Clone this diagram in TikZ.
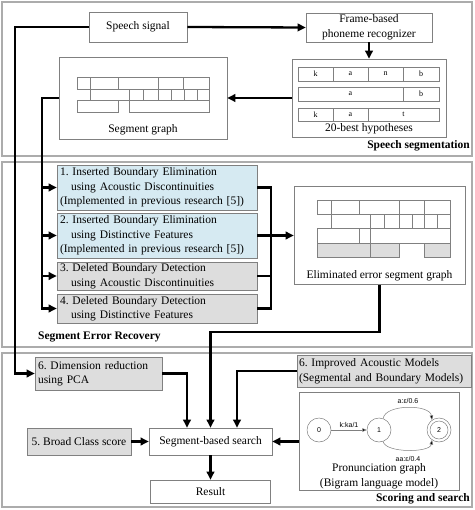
\documentclass[tikz,border=0pt]{standalone}
\usepackage{fontspec}
\setmainfont{Liberation Serif}
\newfontfamily\labsans{Liberation Sans}
\usetikzlibrary{arrows.meta}
\definecolor{boxblue}{RGB}{214,234,242}
\definecolor{boxgray}{RGB}{221,221,221}
\definecolor{framegray}{RGB}{172,172,172}
\definecolor{linegray}{RGB}{128,128,128}
\frenchspacing

\begin{document}
\begin{tikzpicture}[x=1pt,y=-1pt,
  blk/.style={draw=linegray, line width=0.6pt, fill=white, inner sep=0pt, align=center,
    font=\fontsize{11.5}{14.5}\selectfont},
  lblk/.style={blk, align=left, inner xsep=3pt},
  conn/.style={line width=2.3pt, line join=miter},
  arr/.style={conn, -{Triangle[length=8pt,width=7.5pt]}},
  cell/.style={draw=linegray, line width=0.5pt},
  cellt/.style={inner sep=0pt, font=\fontsize{8}{9}\selectfont},
  sect/.style={draw=framegray, line width=1.6pt},
  title/.style={inner sep=0pt, font=\bfseries\fontsize{11.5}{13}\selectfont},
  st/.style={circle, draw=linegray, line width=0.5pt, minimum size=24pt, inner sep=0pt,
    font=\labsans\fontsize{7}{8}\selectfont},
  sarr/.style={draw=linegray, line width=0.5pt, -{Triangle[length=4.5pt,width=3.5pt,fill=black]}},
  slab/.style={inner sep=0pt, font=\labsans\fontsize{7}{8}\selectfont}]
\useasboundingbox (0,0) rectangle (474,510);
% sections
\draw[sect] (2,2) rectangle (472,156);
\draw[sect] (2,162) rectangle (472,347);
\draw[sect] (2,353) rectangle (472,507);
\node[title, anchor=east] (t1) at (470,146) {Speech segmentation};
\node[title, anchor=west] (t2) at (38,337) {Segment Error Recovery};
\node[title, anchor=east] (t3) at (470,499) {Scoring and search};
%
% speech segmentation
\node[blk, minimum width=98pt, minimum height=30pt] (sig) at (138,27) {Speech signal};
\node[blk, minimum width=126pt, minimum height=29pt] (frm) at (369,27.5) {Frame-based\\phoneme recognizer};
\node[blk, minimum width=154pt, minimum height=78pt] (hyp) at (369,98) {};
\node[blk, minimum width=168pt, minimum height=82pt] (seg) at (143,98) {};
\foreach \a/\b in {298/333,333/368,368/403,403/439} \draw[cell] (\a,67) rectangle (\b,81);
\foreach \a/\b in {298/403,403/439} \draw[cell] (\a,87) rectangle (\b,101);
\foreach \a/\b in {298/333,333/368,368/439} \draw[cell] (\a,108) rectangle (\b,121);
\foreach \x/\t in {315.5/k,350.5/a,385.5/n,421/b} \node[cellt] at (\x,74) {\t};
\foreach \x/\t in {350.5/a,421/b} \node[cellt] at (\x,94) {\t};
\foreach \x/\t in {315.5/k,350.5/a,403.5/t} \node[cellt] at (\x,114.5) {\t};
\node[blk, draw=none, fill=none] (hypl) at (369,129) {20-best hypotheses};
\foreach \a/\b in {77/90,90/118,118/158,158/183,183/209} \draw[cell] (\a,77.7) rectangle (\b,89);
\foreach \a/\b in {90/129,129/143,143/158,158/171,171/184,184/197,197/209} \draw[cell] (\a,89) rectangle (\b,100.7);
\foreach \a/\b in {77/118,129/209} \draw[cell] (\a,100.7) rectangle (\b,112);
\node[blk, draw=none, fill=none] (segl) at (143,130) {Segment graph};
%
\draw[arr] (sig.east) -- (frm.west);
\draw[arr] (frm.south) -- (hyp.north);
\draw[arr] (hyp.west) -- (seg.east);
%
% segment error recovery
\node[lblk, fill=boxblue, text width=194pt, minimum height=45pt] (b1) at (157,187.5)
  {1. Inserted Boundary Elimination\\\hspace*{11pt}using Acoustic Discontinuities\\(Implemented in previous research [5])};
\node[lblk, fill=boxblue, text width=194pt, minimum height=45pt] (b2) at (157,235.5)
  {2. Inserted Boundary Elimination\\\hspace*{11pt}using Distinctive Features\\(Implemented in previous research [5])};
\node[lblk, fill=boxgray, text width=194pt, minimum height=28pt] (b3) at (157,276)
  {3. Deleted Boundary Detection\\\hspace*{11pt}using Acoustic Discontinuities};
\node[lblk, fill=boxgray, text width=194pt, minimum height=29pt] (b4) at (157,308.5)
  {4. Deleted Boundary Detection\\\hspace*{11pt}using Distinctive Features};
\node[blk, minimum width=171pt, minimum height=98pt] (elim) at (379.5,235.5) {};
\foreach \a/\b in {317/331,331/359,359/399,399/424,424/450} \draw[cell] (\a,200.7) rectangle (\b,214);
\foreach \a/\b in {331/370,370/384,384/399,399/412,412/424,424/437,437/450} \draw[cell] (\a,214) rectangle (\b,228);
\foreach \a/\b in {317/359,370/450} \draw[cell] (\a,228) rectangle (\b,243);
\foreach \a/\b in {317/370,370/399,424/450} \draw[cell, fill=boxgray] (\a,243) rectangle (\b,257);
\node[blk, draw=none, fill=none] (eliml) at (379.5,276) {Eliminated error segment graph};
%
\coordinate (sbus) at (42,98);
\draw[arr] (seg.west) -- (sbus) |- (b4.west);
\foreach \b in {b1,b2,b3} \draw[arr] (sbus |- \b.west) -- (\b.west);
\coordinate (rbus) at (271,187.5);
\draw[conn] (b1.east) -- (rbus) |- (b4.east);
\foreach \b in {b2,b3} \draw[conn] (\b.east) -- (rbus |- \b.east);
\draw[arr] (rbus |- b2.east) -- (elim.west);
%
% scoring and search
\node[lblk, fill=boxgray, text width=121pt, minimum height=33pt] (dim) at (98.5,373.5)
  {6. Dimension reduction\\using PCA};
\node[lblk, fill=boxgray, inner xsep=2pt, text width=170pt, minimum height=32pt] (imp) at (384,371)
  {6. Improved Acoustic Models\\(Segmental and Boundary Models)};
\node[blk, minimum width=123pt, minimum height=27pt] (srch) at (210.5,441.5) {Segment-based search};
\node[blk, fill=boxgray, minimum width=104pt, minimum height=27pt] (bcs) at (79,441.5) {5. Broad Class score};
\node[blk, minimum width=120pt, minimum height=23pt] (res) at (210.5,491.5) {Result};
\node[blk, minimum width=160pt, minimum height=98pt] (pron) at (379,441.5) {};
\node[st] (q0) at (319,430) {0};
\node[st] (q1) at (379,430) {1};
\node[st] (q2) at (439,430) {2};
\draw[linegray, line width=0.5pt] (q2) circle (9pt);
\draw[sarr] (q0) -- node[slab, above=2.5pt] {k:ka/1} (q1);
\draw[sarr] (q1.70) .. controls (385,404) and (430,404) .. (q2.125);
\draw[sarr] (q1.-70) .. controls (385,453) and (430,453) .. (q2.-125);
\node[slab] (la) at (408,401) {a:ε/0.6};
\node[slab] (lb) at (408,459) {aa:ε/0.4};
\node[blk, draw=none, fill=none] (pronl) at (379,476) {Pronunciation graph\\(Bigram language model)};
%
\coordinate (lbus) at (15,27);
\draw[arr] (sig.west) -- (lbus) |- (dim.west);
\coordinate (turn) at (210.5,332);
\draw[arr] (elim.south) |- (turn) -- (srch.north);
\draw[arr] (dim.east) -| ([xshift=-23.5pt]srch.north);
\draw[arr] (imp.west) -| ([xshift=26.5pt]srch.north);
\draw[arr] (bcs) -- (srch);
\draw[arr] (pron.west) -- (srch.east);
\draw[arr] (srch) -- (res);
\end{tikzpicture}
\end{document}
